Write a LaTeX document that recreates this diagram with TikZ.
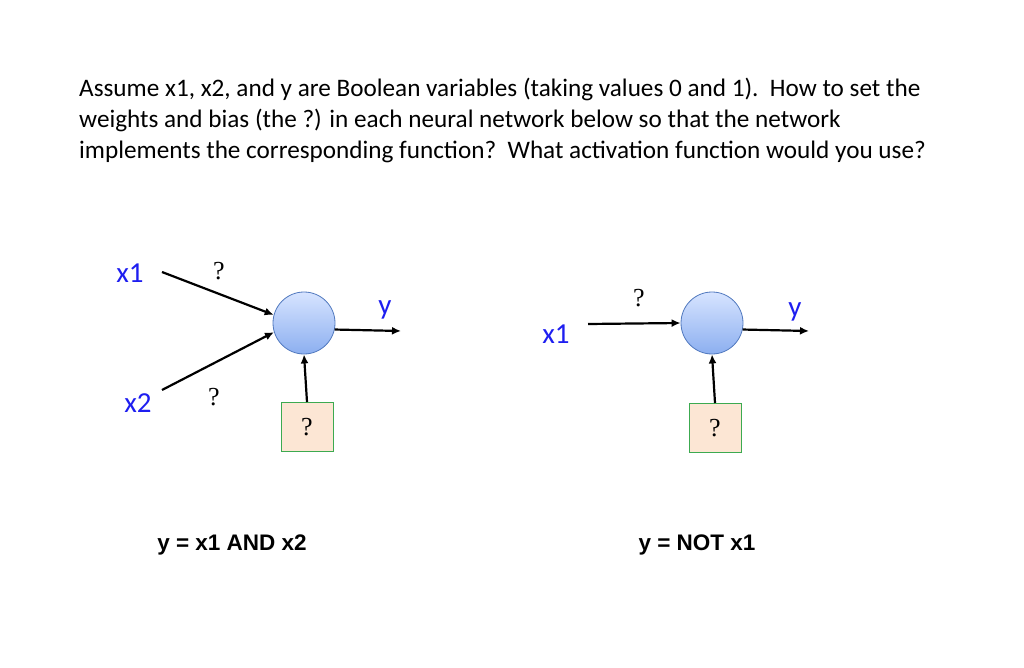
\documentclass[tikz,border=0pt]{standalone}
\usepackage{fontspec}
\setmainfont{Carlito}
\newfontfamily\qfont{Liberation Serif}
\newfontfamily\cfont{Liberation Sans}
\usetikzlibrary{arrows.meta}
\definecolor{lblue}{RGB}{30,30,240}
\tikzset{
 neuron/.style={circle,minimum size=62pt,inner sep=0pt,line width=0.8pt,draw={rgb,255:red,80;green,120;blue,190},top color={rgb,255:red,215;green,228;blue,255},bottom color={rgb,255:red,140;green,175;blue,240}},
 bias/.style={draw={rgb,255:red,60;green,170;blue,80},line width=1pt,fill={rgb,255:red,252;green,230;blue,212},minimum width=52pt,minimum height=49pt,inner sep=0pt,font=\qfont\fontsize{26}{28}\selectfont},
 var/.style={text=lblue,font=\fontsize{29}{32}\selectfont,inner sep=0pt},
 q/.style={font=\qfont\fontsize{26}{28}\selectfont,inner sep=0pt},
 arr/.style={-{Latex[length=9pt,width=8pt]},line width=2.2pt},
 caption/.style={font=\cfont\bfseries\fontsize{22.5}{25}\selectfont,inner sep=0pt}
}
\begin{document}
\begin{tikzpicture}[x=1pt,y=-1pt]
\useasboundingbox (0,0) rectangle (1024,668);
\node[anchor=west,inner sep=0pt,align=left,font=\fontsize{25.2}{31}\selectfont] (txt) at (79,120)
{Assume x1, x2, and y are Boolean variables (taking values 0 and 1).\ \ How to set the\\
weights and bias (the ?) in each neural network below so that the network\\
implements the corresponding function?\ \ What activation function would you use?};
% left network
\node[neuron] (n1) at (304,323) {};
\node[var] (a1) at (130,273) {x1};
\node[var] (a2) at (138,403) {x2};
\coordinate (s1) at (162,272);
\coordinate (s2) at (162,390);
\draw[arr] (s1) -- (n1.165);
\draw[arr] (s2) -- (n1.197);
\node[q] (w1) at (219,271) {?};
\node[q] (w2) at (214,397) {?};
\node[bias] (b1) at (307,427) {?};
\draw[arr] (b1.north) -- (n1.south);
\coordinate (o1) at (401,331);
\draw[arr] (n1.-12) -- (o1);
\node[var] (y1) at (385,310) {y};
\node[caption] (c1) at (232,545) {y = x1 AND x2};
% right network
\node[neuron] (n2) at (712,323) {};
\node[var] (r1) at (556,334) {x1};
\coordinate (s3) at (588,324);
\draw[arr] (s3) -- (n2.west);
\node[q] (w3) at (639,298) {?};
\node[bias] (b2) at (715,428) {?};
\draw[arr] (b2.north) -- (n2.south);
\coordinate (o2) at (809,331);
\draw[arr] (n2.-12) -- (o2);
\node[var] (y2) at (795,312) {y};
\node[caption] (c2) at (697,545) {y = NOT x1};
\end{tikzpicture}
\end{document}
